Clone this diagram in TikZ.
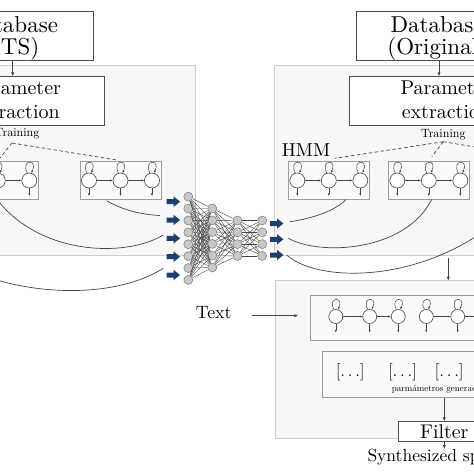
\documentclass[tikz,border=0pt]{standalone}
\usetikzlibrary{arrows.meta,calc}
\definecolor{navyc}{HTML}{1D3F6E}
\definecolor{panelfill}{HTML}{F7F7F7}
\definecolor{paneldraw}{HTML}{CDCDCD}
\definecolor{hboxdraw}{HTML}{9C9C9C}
\definecolor{hboxfill}{HTML}{FAFAFA}
\definecolor{linec}{HTML}{454545}
\definecolor{boxdraw}{HTML}{4D4D4D}
\definecolor{nnfill}{HTML}{C8C8C8}
\definecolor{nndraw}{HTML}{7A7A7A}
\font\ftDB="[lmroman10-regular]" at 23pt
\font\ftPAR="[lmroman10-regular]" at 20pt
\font\ftHMM="[lmroman10-regular]" at 18.7pt
\font\ftTR="[lmroman10-regular]" at 12pt
\font\ftMID="[lmroman10-regular]" at 17.9pt
\font\ftFIL="[lmroman10-regular]" at 19.8pt
\font\ftSYN="[lmroman10-regular]" at 17.5pt
\font\ftSM="[lmroman10-regular]" at 9pt
\newcommand{\myfbr}{\fontsize{16.5}{20}\selectfont}
\begin{document}
\begin{tikzpicture}[x=1pt,y=-1pt,
 panel/.style={draw=paneldraw,fill=panelfill,line width=0.7pt},
 mainbox/.style={draw=boxdraw,fill=white,line width=0.8pt,inner sep=0pt},
 hbox/.style={draw=hboxdraw,fill=hboxfill,line width=0.7pt,inner sep=0pt,minimum width=81pt,minimum height=38.3pt},
 st/.style={circle,draw=linec,fill=white,line width=0.6pt,minimum size=15pt,inner sep=0pt},
 stl/.style={st,minimum size=14pt},
 nn/.style={circle,draw=nndraw,fill=nnfill,line width=0.5pt,minimum size=9pt,inner sep=0pt},
 nnedge/.style={draw=linec,line width=0.4pt},
 sarr/.style={draw=linec,line width=0.5pt,-{Latex[length=2.6pt,width=2.2pt]}},
 barr/.style={draw=linec,line width=0.7pt,-{Latex[length=4pt,width=3.2pt]}},
 curve/.style={draw=linec,line width=0.7pt},
 trainline/.style={draw=linec,line width=0.7pt,dash pattern=on 3.5pt off 2.5pt},
 txt/.style={inner sep=0pt,text=black},
 pics/barrowpic/.style={code={\fill[navyc] (-6.7,-2.5) -- (0.3,-2.5) -- (0.3,-5.2) -- (6.7,0) -- (0.3,5.2) -- (0.3,2.5) -- (-6.7,2.5) -- cycle;}}
]
\useasboundingbox (0,0) rectangle (474,474);
\clip (0,0) rectangle (474,474);
\fill[white] (0,0) rectangle (474,474);

% panels
\path[panel] (-10,65) rectangle (195.7,255);
\path[panel] (274,65) rectangle (490,255);
\path[panel] (275,280.7) rectangle (490,438.3);

% database boxes
\node[mainbox,minimum width=161.2pt,minimum height=48.8pt] (dbL) at (12.7,36.1) {};
\node[txt,font=\ftDB,anchor=base] (dbL1) at (11.5,32.2) {Database};
\node[txt,font=\ftDB,anchor=base] (dbL2) at (11.5,54.5) {(ITS)};
\node[mainbox,minimum width=164.6pt,minimum height=48.8pt] (dbR) at (439,36.1) {};
\node[txt,font=\ftDB,anchor=base] (dbR1) at (437.2,32.2) {Database};
\node[txt,font=\ftDB,anchor=base] (dbR2) at (437.2,54.5) {(Original)};

% parameter extraction boxes
\node[mainbox,minimum width=183.2pt,minimum height=48.4pt] (parL) at (12.7,101) {};
\node[txt,font=\ftPAR,anchor=base] (parL1) at (15.5,94.5) {Parameter};
\node[txt,font=\ftPAR,anchor=base] (parL2) at (15.5,118.7) {extraction};
\node[mainbox,minimum width=179.4pt,minimum height=48.4pt] (parR) at (439,101) {};
\node[txt,font=\ftPAR,anchor=base] (parR1) at (446,94.5) {Parameter};
\node[txt,font=\ftPAR,anchor=base] (parR2) at (446,118.7) {extraction};
\draw[barr] (dbL) -- (parL);
\draw[barr] (dbR) -- (parR);

% training labels
\node[txt,font=\ftTR,anchor=base east] (trLl) at (39.5,136.7) {Training};
\node[txt,font=\ftTR,anchor=base] (trRl) at (443.3,137.5) {Training};
\node[txt,font=\ftHMM,anchor=base west] (hmmlbl) at (281.7,156) {HMM};

% HMM boxes in the training panels
\foreach \b/\cx in {hA/-2.2,hB/120.5,h1/328.8,h2/428.8}{
  \node[hbox] (\b) at (\cx,180.15) {};
}
\foreach \b/\cx in {hA/-2.2,hB/120.5,h1/328.8,h2/428.8}{
  \foreach \k/\dx in {1/-31.5,2/0,3/31.5}{
    \node[st] (\b-\k) at ({\cx+\dx},180.5) {};
    \coordinate (\b-\k-o) at ({\cx+\dx},196);
    \draw[sarr] (\b-\k.south) -- (\b-\k-o);
    \draw[sarr] (\b-\k.105) .. controls +(-7,-14) and +(7,-14) .. (\b-\k.75);
  }
  \draw[sarr] (\b-1) -- (\b-2);
  \draw[sarr] (\b-2) -- (\b-3);
}

% training dashed lines
\coordinate (trL) at (12,143);
\coordinate (trR) at (443.3,141.7);
\coordinate (trR1) at (335,158.3);
\coordinate (trR3) at (520,154.5);
\draw[trainline,shorten >=3pt] (trL) -- (hB.north);
\draw[trainline,shorten >=3pt] (trL) -- (hA.north);
\draw[trainline] (trR) -- (trR1);
\draw[trainline,shorten >=5pt] (trR) -- (h2.north);
\draw[trainline] (trR) -- (trR3);

% neural network
\foreach \i in {1,...,8} \node[nn] (na\i) at (188.3,{238.3+(\i-4.5)*11.9}) {};
\foreach \i in {1,...,6} \node[nn] (nb\i) at (212.3,{238+(\i-3.5)*11.8}) {};
\foreach \i in {1,...,4} \node[nn] (nc\i) at (237.5,{238.2+(\i-2.5)*11.8}) {};
\foreach \i in {1,...,4} \node[nn] (nd\i) at (262.2,{238.2+(\i-2.5)*11.8}) {};
\foreach \i in {1,...,8}{\foreach \j in {1,...,6}{\draw[nnedge] (na\i) -- (nb\j);}}
\foreach \i in {1,...,6}{\foreach \j in {1,...,4}{\draw[nnedge] (nb\i) -- (nc\j);}}
\foreach \i in {1,...,4}{\foreach \j in {1,...,4}{\draw[nnedge] (nc\i) -- (nd\j);}}

% block arrows
\foreach \k/\yy in {1/201.7,2/220,3/238.3,4/256.7,5/275}{\pic (la\k) at (173.3,\yy) {barrowpic};}
\foreach \k/\yy in {1/223.5,2/239.3,3/255}{\pic (ra\k) at (276.7,\yy) {barrowpic};}

% curves, left panel
\coordinate (c1a) at (106.7,200.7); \coordinate (c1b) at (160,215.5);
\draw[curve] (c1a) .. controls (120,208.5) and (138,214.5) .. (c1b);
\coordinate (c2a) at (-3,199.5); \coordinate (c2b) at (163.3,235);
\draw[curve] (c2a) .. controls (40,255) and (125,258) .. (c2b);
\coordinate (c3a) at (-60,250); \coordinate (c3b) at (163.3,268.3);
\draw[curve] (c3a) .. controls (-20,290) and (100,308) .. (c3b);

% curves, right panel
\coordinate (c4a) at (290,221.7); \coordinate (c4b) at (346,199.5);
\draw[curve] (c4a) .. controls (315,218) and (336,210) .. (c4b);
\coordinate (c5a) at (288.3,238.3); \coordinate (c5b) at (431.7,199.5);
\draw[curve] (c5a) .. controls (320,256) and (405,252) .. (c5b);
\coordinate (c6a) at (286.7,255); \coordinate (c6b) at (520,200);
\draw[curve] (c6a) .. controls (320,285) and (440,285) .. (c6b);

% panel to synthesis panel
\coordinate (pa) at (448.3,258); \coordinate (pb) at (448.3,280.7);
\draw[barr] (pa) -- (pb);

% synthesis panel
\node[hbox,minimum width=189.3pt,minimum height=44.5pt] (hL) at (405.35,317.75) {};
\foreach \k/\xx in {1/335.8,2/369.7,3/398.3,4/426.3,5/457.7}{
  \node[stl] (hL-\k) at (\xx,316.5) {};
  \coordinate (hL-\k-o) at (\xx,332.5);
  \draw[sarr] (hL-\k.south) -- (hL-\k-o);
  \draw[sarr] (hL-\k.105) .. controls +(-7,-13) and +(7,-13) .. (hL-\k.75);
}
\coordinate (hL-x) at (500,316.5);
\draw[sarr] (hL-1) -- (hL-2);
\draw[sarr] (hL-2) -- (hL-3);
\draw[sarr] (hL-4) -- (hL-5);
\draw[sarr] (hL-5) -- (hL-x);

\node[txt,font=\ftMID,anchor=base] (txtin) at (213.7,318.3) {Text};
\coordinate (ta) at (251.7,315.7); \coordinate (tb) at (298.3,315.7);
\draw[barr] (ta) -- (tb);

\node[hbox,minimum width=177.3pt,minimum height=45.6pt] (bB) at (411.35,374.5) {};
\node[txt,font=\myfbr] (br1) at (350.3,371.7) {$[\ldots]$};
\node[txt,font=\myfbr] (br2) at (402.5,371.7) {$[\ldots]$};
\node[txt,font=\myfbr] (br3) at (449.2,371.7) {$[\ldots]$};
\node[txt,font=\ftSM,anchor=base west] (pg) at (391.7,391.7) {parmámetros generados};

\node[mainbox,minimum width=92pt,minimum height=20pt,font=\ftFIL] (filt) at (444.3,431.7) {Filter};
\draw[barr] (bB.south -| filt.north) -- (filt.north);
\node[txt,font=\ftSYN,anchor=base west] (synth) at (367.3,461.7) {Synthesized speech};
\draw[barr] (filt.south) -- (filt.south |- synth.north);
\end{tikzpicture}
\end{document}
